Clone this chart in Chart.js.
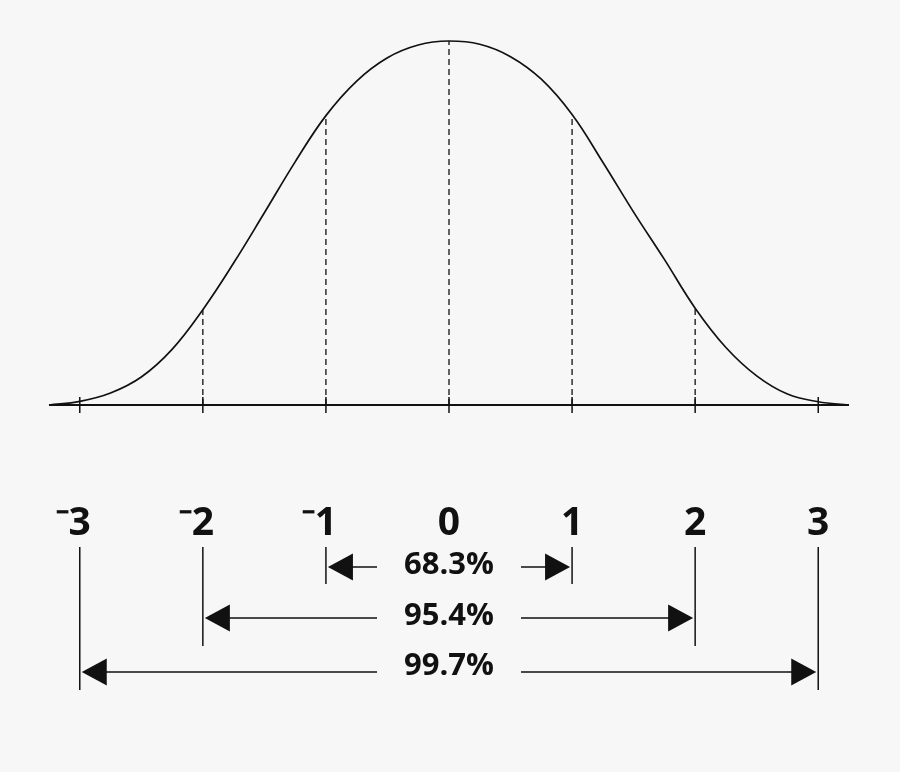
<!DOCTYPE html>
<html>
<head>
<meta charset="utf-8">
<script src="https://cdn.jsdelivr.net/npm/chart.js@4"></script>
<style>
  html, body { margin: 0; padding: 0; background: #f7f7f7; }
  #wrap { width: 900px; height: 772px; }
</style>
</head>
<body>
<div id="wrap"><canvas id="bell" width="900" height="772"></canvas></div>
<script>
/* ── Data ────────────────────────────────────────────────────────────────── */
const xs      = [-3.25, -3, -2.75, -2.5, -2.25, -2, -1.75, -1.5, -1.25, -1, -0.75, -0.5, -0.25,
                 0, 0.25, 0.5, 0.75, 1, 1.25, 1.5, 1.75, 2, 2.25, 2.5, 2.75, 3, 3.25];
const density = [0, 0.010, 0.033, 0.077, 0.153, 0.262, 0.390, 0.528, 0.668, 0.795, 0.890, 0.954, 0.989,
                 1, 0.991, 0.957, 0.895, 0.798, 0.667, 0.530, 0.400, 0.266, 0.158, 0.080, 0.030, 0.009, 0];
const tickValues = [-3, -2, -1, 0, 1, 2, 3];
const tickLabels = ['⁻3', '⁻2', '⁻1', '0', '1', '2', '3'];
const dashedAt   = [-2, -1, 0, 1, 2];
const spanSigma  = [1, 2, 3];
const spanLabels = ['68.3%', '95.4%', '99.7%'];

const INK = '#111';
const heightAt = x => density[xs.indexOf(x)];

/* ── Datasets ────────────────────────────────────────────────────────────── */
const curve = {
  data: xs.map((x, i) => ({ x, y: density[i] })),
  borderColor: INK,
  borderWidth: 1.7,
  pointRadius: 0,
  tension: 0.4,
  clip: false,
};

const dashes = dashedAt.map(x => ({
  data: [{ x, y: 0 }, { x, y: heightAt(x) }],
  borderColor: INK,
  borderWidth: 1.3,
  borderDash: [6, 4],
  pointRadius: 0,
  clip: false,
}));

/* ── Axis, labels and range arrows ───────────────────────────────────────── */
function arrowHead(ctx, tipX, y, dir) {
  ctx.beginPath();
  ctx.moveTo(tipX, y);
  ctx.lineTo(tipX + dir * 25, y - 13.5);
  ctx.lineTo(tipX + dir * 25, y + 13.5);
  ctx.closePath();
  ctx.fill();
}

const annotate = {
  id: 'annotate',
  afterDatasetsDraw(chart) {
    const { ctx, scales: { x, y } } = chart;
    const y0 = y.getPixelForValue(0);
    ctx.save();
    ctx.strokeStyle = INK;
    ctx.fillStyle = INK;

    // base axis
    ctx.lineWidth = 2;
    ctx.beginPath();
    ctx.moveTo(x.getPixelForValue(xs[0]), y0);
    ctx.lineTo(x.getPixelForValue(xs[xs.length - 1]), y0);
    ctx.stroke();

    // tick marks
    ctx.lineWidth = 1.5;
    tickValues.forEach(v => {
      const px = x.getPixelForValue(v);
      ctx.beginPath();
      ctx.moveTo(px, y0 - 8);
      ctx.lineTo(px, y0 + 8);
      ctx.stroke();
    });

    // big sigma labels, digit centred on the tick
    ctx.font = '700 39px "Open Sans"';
    ctx.textBaseline = 'alphabetic';
    ctx.textAlign = 'right';
    tickValues.forEach((v, i) => {
      const px = x.getPixelForValue(v);
      const digitW = ctx.measureText(String(Math.abs(v))).width;
      ctx.fillText(tickLabels[i], px + digitW / 2, 535);
    });

    // range brackets
    const mid = x.getPixelForValue(0);
    const rowY     = [567, 618, 672];
    const baseline = [574, 625, 675];
    const bottom   = [584, 646, 690];
    ctx.font = '700 31px "Open Sans"';
    ctx.textAlign = 'center';
    ctx.textBaseline = 'alphabetic';
    spanSigma.forEach((s, i) => {
      const lx = x.getPixelForValue(-s);
      const rx = x.getPixelForValue(s);
      const ry = rowY[i];
      ctx.lineWidth = 1.5;
      [lx, rx].forEach(px => {
        ctx.beginPath();
        ctx.moveTo(px, 547);
        ctx.lineTo(px, bottom[i]);
        ctx.stroke();
      });
      ctx.beginPath();
      ctx.moveTo(lx + 26, ry);
      ctx.lineTo(mid - 72, ry);
      ctx.moveTo(mid + 72, ry);
      ctx.lineTo(rx - 26, ry);
      ctx.stroke();
      arrowHead(ctx, lx + 2, ry, 1);
      arrowHead(ctx, rx - 2, ry, -1);
      ctx.fillText(spanLabels[i], mid, baseline[i]);
    });
    ctx.restore();
  }
};

/* ── Chart ───────────────────────────────────────────────────────────────── */
new Chart(document.getElementById('bell'), {
  type: 'line',
  data: { datasets: [curve, ...dashes] },
  options: {
    responsive: false,
    animation: false,
    devicePixelRatio: 1,
    layout: { padding: { left: 49, right: 51, top: 41, bottom: 367 } },
    plugins: { legend: { display: false }, tooltip: { enabled: false } },
    scales: {
      x: { type: 'linear', min: -3.25, max: 3.25, display: false },
      y: { min: 0, max: 1, display: false }
    }
  },
  plugins: [annotate]
});
</script>
</body>
</html>
